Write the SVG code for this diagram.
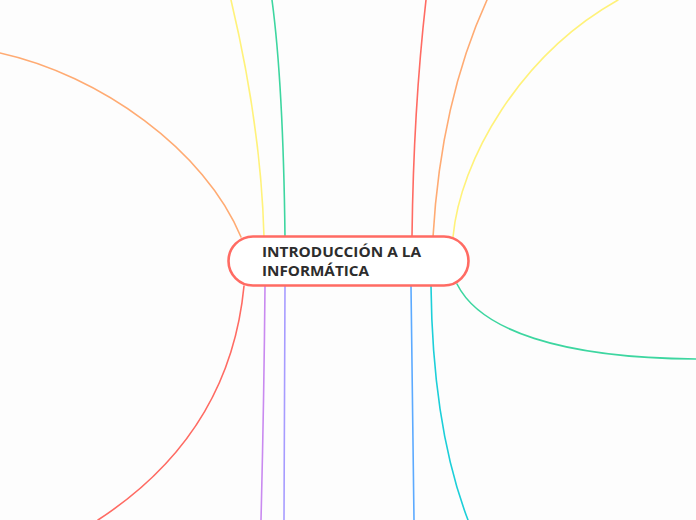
<svg xmlns="http://www.w3.org/2000/svg" width="696" height="520" viewBox="0 0 696 520">
<style>
.c{fill:none;stroke-width:1.6;stroke-linecap:round}
.node{fill:#ffffff;stroke:#ff6b63;stroke-width:2.6}
.t{font-family:"Open Sans","Liberation Sans",sans-serif;font-weight:700;font-size:14.5px;fill:#2d2d2d}
</style>
<rect width="696" height="520" fill="#fdfdfd"/>
<g id="connectors">
<path class="c" stroke="#fff27a" d="M264,237 C262,160 250,80 231,0"/>
<path class="c" stroke="#3dd6a0" d="M285,237 C284,150 280,60 272,0"/>
<path class="c" stroke="#ff6b63" d="M412,237 C413,150 418,70 426,0"/>
<path class="c" stroke="#ffab73" d="M433,237 C438,150 455,70 487,0"/>
<path class="c" stroke="#fff27a" d="M453,237 C460,160 520,55 618,0"/>
<path class="c" stroke="#ffab73" d="M241,237 C205,150 100,75 0,53"/>
<path class="c" stroke="#ff6b63" d="M244,286 C235,380 190,460 98,520"/>
<path class="c" stroke="#c98af0" d="M265,286 Q264,400 261,520"/>
<path class="c" stroke="#a79cff" d="M285,286 Q285,400 284,520"/>
<path class="c" stroke="#5caaff" d="M411,286 Q412,400 414,520"/>
<path class="c" stroke="#1ccfd9" d="M431,286 C432,380 445,460 468,520"/>
<path class="c" stroke="#3dd6a0" d="M457,284 C480,330 560,358 696,359"/>
</g>
<g id="node-central">
<rect class="node" x="228.5" y="236.5" width="240" height="49" rx="24.5"/>
<text class="t" x="262" y="256.5" textLength="159" lengthAdjust="spacingAndGlyphs">INTRODUCCIÓN A LA</text>
<text class="t" x="262" y="276" textLength="107" lengthAdjust="spacingAndGlyphs">INFORMÁTICA</text>
</g>
</svg>
